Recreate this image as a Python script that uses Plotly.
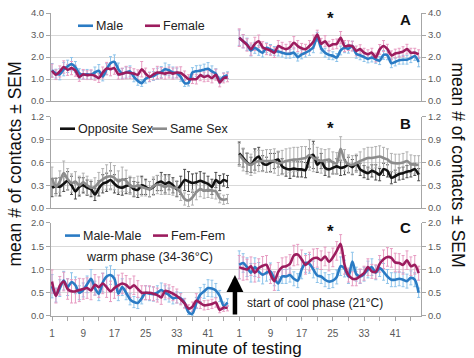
import plotly.graph_objects as go

# ---------------- data ----------------
minutes_warm = list(range(1, 47))
minutes_cool = list(range(1, 48))
COOL_OFFSET = 48  # position shift of cool-phase minutes on the shared x axis

# Panel A
male_warm = [1.41,1.25,1.22,1.45,1.58,1.68,1.55,1.25,1.2,1.22,1.2,1.3,1.38,1.12,1.45,1.72,1.78,1.45,1.26,1.3,
             1.35,1.1,0.92,0.82,1.02,1.1,1.14,1.25,1.32,1.45,1.4,1.3,1.28,1.1,0.82,0.84,1.3,1.36,1.38,1.43,
             1.47,1.35,1.25,0.95,1.1,1.18]
male_warm_sem = [0.3,0.2,0.25,0.3,0.28,0.3,0.25,0.22,0.2,0.22,0.2,0.25,0.28,0.2,0.25,0.3,0.32,0.28,0.22,0.25,
                 0.25,0.22,0.2,0.15,0.2,0.22,0.2,0.25,0.25,0.28,0.25,0.25,0.22,0.2,0.15,0.15,0.22,0.25,0.25,0.25,
                 0.28,0.25,0.22,0.15,0.18,0.15]
female_warm = [1.38,1.2,1.35,1.55,1.42,1.5,1.38,1.1,1.22,1.18,1.2,1.15,1.05,1.3,1.48,1.45,1.5,1.22,1.25,1.3,
               1.28,1.25,1.2,1.45,1.25,1.1,1.22,1.3,1.28,1.25,1.3,1.25,1.3,1.28,1.15,1.0,1.0,1.0,1.18,1.1,
               1.15,1.05,1.2,0.85,1.05,1.08]
female_warm_sem = [0.3,0.22,0.25,0.28,0.25,0.3,0.25,0.2,0.22,0.2,0.22,0.2,0.2,0.25,0.28,0.3,0.28,0.22,0.25,0.28,
                   0.25,0.22,0.22,0.35,0.25,0.2,0.25,0.28,0.25,0.25,0.25,0.25,0.25,0.28,0.22,0.2,0.2,0.22,0.25,0.22,
                   0.25,0.22,0.25,0.2,0.22,0.2]
male_cool = [2.88,2.72,2.58,2.3,2.42,2.3,2.2,2.42,2.35,2.28,2.25,2.2,2.15,2.15,2.2,2.0,2.12,2.2,2.3,2.45,
             2.92,2.4,2.2,2.1,2.06,1.98,2.3,2.42,2.38,2.5,2.15,2.08,2.0,1.92,1.98,1.9,1.84,2.1,2.08,1.72,
             1.78,1.86,1.88,1.88,1.95,2.05,1.78]
male_cool_sem = [0.35,0.3,0.28,0.25,0.25,0.22,0.2,0.22,0.22,0.2,0.2,0.2,0.2,0.2,0.22,0.18,0.2,0.2,0.22,0.25,
                 0.2,0.22,0.2,0.2,0.18,0.18,0.2,0.22,0.2,0.22,0.2,0.2,0.2,0.18,0.2,0.18,0.18,0.2,0.2,0.2,
                 0.18,0.18,0.2,0.2,0.2,0.2,0.22]
female_cool = [2.88,2.72,2.55,2.36,2.6,2.72,2.45,2.36,2.3,2.2,2.5,2.42,2.36,2.45,2.65,2.5,2.4,2.36,2.5,2.7,
               3.02,2.6,2.72,2.5,2.58,2.6,2.88,2.5,2.52,2.5,2.28,2.36,2.2,2.13,2.2,1.98,2.35,2.5,2.36,2.08,
               2.16,2.2,2.25,2.36,2.2,2.2,2.13]
female_cool_sem = [0.4,0.3,0.28,0.28,0.3,0.28,0.25,0.25,0.22,0.22,0.25,0.25,0.22,0.25,0.28,0.25,0.22,0.22,0.25,0.3,
                   0.2,0.25,0.25,0.22,0.22,0.22,0.28,0.25,0.22,0.22,0.22,0.2,0.2,0.2,0.2,0.2,0.22,0.25,0.22,0.2,
                   0.2,0.2,0.22,0.22,0.2,0.2,0.2]

# Panel B
opp_warm = [0.27,0.29,0.28,0.32,0.36,0.3,0.22,0.28,0.3,0.27,0.25,0.18,0.26,0.32,0.34,0.37,0.32,0.28,0.27,0.29,
            0.3,0.25,0.24,0.3,0.28,0.25,0.28,0.33,0.35,0.32,0.34,0.3,0.25,0.3,0.37,0.35,0.33,0.34,0.36,0.34,
            0.32,0.28,0.37,0.33,0.37,0.35]
opp_warm_sem = [0.12,0.1,0.12,0.1,0.12,0.12,0.1,0.12,0.1,0.1,0.1,0.08,0.1,0.12,0.12,0.12,0.12,0.1,0.1,0.1,
                0.1,0.1,0.1,0.12,0.1,0.1,0.1,0.1,0.12,0.12,0.1,0.1,0.1,0.12,0.14,0.13,0.12,0.12,0.12,0.12,
                0.1,0.1,0.1,0.1,0.08,0.08]
same_warm = [0.4,0.28,0.35,0.46,0.38,0.33,0.35,0.3,0.34,0.3,0.27,0.28,0.34,0.38,0.41,0.42,0.4,0.35,0.38,0.36,
             0.3,0.28,0.3,0.28,0.26,0.25,0.29,0.31,0.3,0.28,0.3,0.27,0.26,0.2,0.12,0.1,0.14,0.21,0.25,0.23,
             0.24,0.23,0.22,0.13,0.11,0.12]
same_warm_sem = [0.14,0.12,0.14,0.16,0.14,0.12,0.13,0.12,0.12,0.12,0.1,0.12,0.13,0.14,0.16,0.18,0.16,0.14,0.16,0.14,
                 0.12,0.12,0.12,0.12,0.1,0.1,0.12,0.12,0.12,0.1,0.12,0.1,0.1,0.1,0.08,0.08,0.1,0.1,0.1,0.1,
                 0.1,0.1,0.1,0.06,0.06,0.06]
opp_cool = [0.72,0.66,0.6,0.57,0.64,0.68,0.59,0.57,0.6,0.62,0.64,0.55,0.52,0.51,0.52,0.51,0.51,0.5,0.66,0.7,
            0.57,0.62,0.53,0.51,0.53,0.55,0.53,0.54,0.57,0.54,0.59,0.51,0.48,0.46,0.49,0.47,0.44,0.51,0.49,0.4,
            0.42,0.45,0.46,0.48,0.49,0.51,0.44]
opp_cool_sem = [0.15,0.12,0.12,0.1,0.14,0.12,0.1,0.1,0.12,0.1,0.1,0.1,0.1,0.12,0.1,0.1,0.1,0.1,0.12,0.18,
                0.1,0.1,0.1,0.1,0.08,0.1,0.1,0.1,0.1,0.1,0.1,0.08,0.08,0.08,0.08,0.1,0.08,0.08,0.08,0.08,
                0.08,0.08,0.08,0.08,0.08,0.08,0.08]
same_cool = [0.7,0.64,0.59,0.57,0.6,0.62,0.62,0.62,0.62,0.62,0.59,0.6,0.62,0.63,0.64,0.64,0.65,0.66,0.7,0.66,
             0.64,0.62,0.63,0.64,0.6,0.59,0.78,0.63,0.58,0.57,0.59,0.62,0.64,0.66,0.66,0.67,0.68,0.66,0.64,0.6,
             0.59,0.59,0.6,0.62,0.58,0.57,0.57]
same_cool_sem = [0.15,0.15,0.14,0.14,0.14,0.14,0.14,0.15,0.15,0.16,0.16,0.16,0.16,0.16,0.16,0.16,0.16,0.15,0.2,0.18,
                 0.16,0.16,0.14,0.14,0.14,0.14,0.16,0.14,0.12,0.12,0.12,0.12,0.14,0.14,0.14,0.14,0.14,0.14,0.14,0.12,
                 0.12,0.12,0.12,0.12,0.12,0.12,0.12]

# Panel C
mm_warm = [0.64,0.45,0.6,0.76,0.62,0.73,0.66,0.5,0.56,0.68,0.8,0.6,0.48,0.72,0.85,0.88,0.8,0.48,0.62,0.5,
           0.36,0.3,0.28,0.38,0.5,0.48,0.47,0.5,0.56,0.5,0.45,0.38,0.4,0.38,0.28,0.08,0.05,0.28,0.46,0.53,
           0.6,0.59,0.55,0.43,0.22,0.29]
mm_warm_sem = [0.25,0.15,0.18,0.2,0.18,0.2,0.18,0.15,0.15,0.18,0.2,0.15,0.15,0.2,0.2,0.2,0.2,0.15,0.18,0.15,
               0.12,0.12,0.12,0.12,0.15,0.15,0.15,0.15,0.15,0.15,0.15,0.12,0.12,0.12,0.1,0.05,0.05,0.12,0.15,0.15,
               0.18,0.18,0.15,0.12,0.08,0.08]
ff_warm = [0.74,0.43,0.65,0.74,0.58,0.53,0.53,0.56,0.58,0.6,0.55,0.67,0.62,0.7,0.62,0.53,0.6,0.66,0.7,0.67,
           0.6,0.66,0.58,0.5,0.5,0.5,0.48,0.45,0.4,0.54,0.52,0.48,0.43,0.36,0.27,0.16,0.2,0.33,0.28,0.23,
           0.24,0.26,0.29,0.13,0.18,0.17]
ff_warm_sem = [0.25,0.15,0.2,0.2,0.22,0.25,0.25,0.25,0.22,0.22,0.2,0.22,0.22,0.22,0.22,0.22,0.22,0.22,0.22,0.2,
               0.2,0.2,0.18,0.15,0.15,0.15,0.15,0.15,0.15,0.15,0.15,0.15,0.15,0.12,0.1,0.08,0.1,0.15,0.12,0.1,
               0.1,0.1,0.1,0.06,0.08,0.06]
mm_cool = [1.1,1.14,1.05,0.93,1.05,0.95,0.89,0.93,0.96,0.8,0.7,0.85,0.85,0.88,0.8,0.76,1.0,1.14,1.12,1.0,
           0.87,0.85,0.78,0.74,0.76,0.84,1.07,1.02,0.85,1.17,0.9,0.85,0.9,1.0,1.05,0.93,1.03,0.95,0.85,0.78,
           0.78,0.8,0.78,0.75,0.82,0.78,0.5]
mm_cool_sem = [0.3,0.2,0.2,0.2,0.2,0.2,0.2,0.18,0.18,0.15,0.15,0.15,0.15,0.15,0.15,0.15,0.2,0.2,0.2,0.18,
               0.15,0.15,0.15,0.15,0.15,0.15,0.2,0.18,0.15,0.2,0.15,0.15,0.15,0.18,0.18,0.15,0.18,0.18,0.15,0.15,
               0.15,0.15,0.15,0.15,0.15,0.15,0.1]
ff_cool = [1.05,1.02,1.0,1.07,0.93,1.03,1.08,1.1,0.9,0.75,0.95,1.05,1.07,1.12,1.3,1.32,1.22,1.1,1.17,1.24,
           1.25,1.2,1.28,1.17,1.26,1.4,1.55,1.1,0.88,0.8,0.8,0.86,0.92,1.05,0.96,0.95,1.12,1.22,1.27,1.25,
           1.15,1.14,1.1,1.2,1.07,1.1,0.92]
ff_cool_sem = [0.25,0.25,0.22,0.2,0.2,0.2,0.2,0.2,0.2,0.2,0.2,0.2,0.2,0.2,0.22,0.22,0.2,0.2,0.2,0.2,
               0.2,0.2,0.2,0.2,0.2,0.2,0.2,0.2,0.15,0.15,0.15,0.15,0.15,0.18,0.15,0.15,0.18,0.2,0.2,0.2,
               0.2,0.2,0.2,0.2,0.2,0.2,0.15]

x_tick_minutes = [1, 5, 9, 13, 17, 21, 25, 29, 33, 37, 41, 45]
x_label_minutes = [1, 9, 17, 25, 33, 41]

# ---------------- styles ----------------
BLUE = "#2a7bc4"
BLUE_ERR = "#8dc3ea"
RED = "#9c1c5e"
RED_ERR = "#e79cc2"
BLACK = "#111111"
BLACK_ERR = "#4a4a4a"
GRAY = "#8c8c8c"
GRAY_ERR = "#b0b0b0"
FONT = "Liberation Sans, Arial, sans-serif"

W, H = 474, 358
ML, MR, MT, MB = 51, 53, 7, 42
PW, PH = W - ML - MR, H - MT - MB

fig = go.Figure()

x_warm = minutes_warm
x_cool = [m + COOL_OFFSET for m in minutes_cool]


def add_series(xa, ya, name, warm, warm_sem, cool, cool_sem, color, err_color):
    # error bars first (under lines)
    for xs, ys, es in ((x_warm, warm, warm_sem), (x_cool, cool, cool_sem)):
        fig.add_trace(go.Scatter(
            x=xs, y=ys, mode="markers", xaxis=xa, yaxis=ya,
            marker=dict(size=1, color="rgba(0,0,0,0)"),
            error_y=dict(type="data", array=es, color=err_color, thickness=1, width=1.5),
            showlegend=False, hoverinfo="skip"))
    return (xa, ya, name, warm, cool, color)


def add_lines(spec):
    xa, ya, name, warm, cool, color = spec
    for xs, ys in ((x_warm, warm), (x_cool, cool)):
        fig.add_trace(go.Scatter(
            x=xs, y=ys, mode="lines", xaxis=xa, yaxis=ya, name=name,
            line=dict(color=color, width=2.6, shape="spline", smoothing=0.8),
            showlegend=False))


specs = [
    add_series("x", "y", "Male", male_warm, male_warm_sem, male_cool, male_cool_sem, BLUE, BLUE_ERR),
    add_series("x", "y", "Female", female_warm, female_warm_sem, female_cool, female_cool_sem, RED, RED_ERR),
    add_series("x2", "y2", "Opposite Sex", opp_warm, opp_warm_sem, opp_cool, opp_cool_sem, BLACK, BLACK_ERR),
    add_series("x2", "y2", "Same Sex", same_warm, same_warm_sem, same_cool, same_cool_sem, GRAY, GRAY_ERR),
    add_series("x3", "y3", "Male-Male", mm_warm, mm_warm_sem, mm_cool, mm_cool_sem, BLUE, BLUE_ERR),
    add_series("x3", "y3", "Fem-Fem", ff_warm, ff_warm_sem, ff_cool, ff_cool_sem, RED, RED_ERR),
]
for s in specs:
    add_lines(s)

# dummy traces so right-side axes render
for ya, xa in (("y4", "x"), ("y5", "x2"), ("y6", "x3")):
    fig.add_trace(go.Scatter(x=[None], y=[None], xaxis=xa, yaxis=ya, showlegend=False, hoverinfo="skip"))

XR = [0.74, 95.6]
tickvals = [m for m in x_tick_minutes] + [m + COOL_OFFSET for m in x_tick_minutes]
ticktext = [str(m) if m in x_label_minutes else "" for m in x_tick_minutes] * 2

AXLINE = "#a6a6a6"
GRID = "#d9d9d9"
TICKFONT = dict(family=FONT, size=9.5, color="#595959")


def xaxis_cfg(anchor, labels):
    d = dict(range=XR, anchor=anchor, showgrid=False, zeroline=False, showline=True,
             linecolor=AXLINE, linewidth=1, tickfont=TICKFONT, fixedrange=True)
    if labels:
        d.update(tickvals=tickvals, ticktext=ticktext, ticks="outside", ticklen=4, tickcolor=AXLINE,
                 tickfont=dict(family=FONT, size=10, color="#595959"), ticklabelstandoff=4)
    else:
        d.update(showticklabels=False, ticks="")
    return d


def yaxis_cfg(domain, rng, tv, side="left", overlay=None, anchor="x"):
    d = dict(range=rng, tickvals=tv, ticktext=["%.1f" % v for v in tv], showline=True,
             linecolor=AXLINE, linewidth=1, ticks="outside", ticklen=4, tickcolor=AXLINE,
             tickfont=TICKFONT, zeroline=False, fixedrange=True, side=side, anchor=anchor)
    if overlay:
        d.update(overlaying=overlay, showgrid=False)
    else:
        d.update(domain=domain, showgrid=True, gridcolor=GRID, gridwidth=1)
    return d


A_dom = [0.709, 1.0]
B_dom = [0.356, 0.657]
C_dom = [0.0, 0.307]
A_t = [0, 1, 2, 3, 4]
B_t = [0, 0.3, 0.6, 0.9, 1.2]
C_t = [0, 0.5, 1.0, 1.5, 2.0]

fig.update_layout(
    width=W, height=H,
    margin=dict(l=ML, r=MR, t=MT, b=MB),
    paper_bgcolor="white", plot_bgcolor="white",
    font=dict(family=FONT),
    showlegend=False,
    xaxis=xaxis_cfg("y", False),
    xaxis2=xaxis_cfg("y2", False),
    xaxis3=xaxis_cfg("y3", True),
    yaxis=yaxis_cfg(A_dom, [0, 4], A_t, anchor="x"),
    yaxis2=yaxis_cfg(B_dom, [0, 1.2], B_t, anchor="x2"),
    yaxis3=yaxis_cfg(C_dom, [0, 2], C_t, anchor="x3"),
    yaxis4=yaxis_cfg(None, [0, 4], A_t, side="right", overlay="y", anchor="x"),
    yaxis5=yaxis_cfg(None, [0, 1.2], B_t, side="right", overlay="y2", anchor="x2"),
    yaxis6=yaxis_cfg(None, [0, 2], C_t, side="right", overlay="y3", anchor="x3"),
)

ann = []
shapes = []

# per-panel legends (short line sample + series name), positioned in pixels
def px_x(px):
    return (px - ML) / PW

def px_y(py):
    return (H - MB - py) / PH

legend_layout = [  # (series index, line start px, row centre px)
    (0, 78, 20), (1, 145, 20),
    (2, 60, 125), (3, 152, 125),
    (4, 65, 234), (5, 153, 234),
]
for idx, x0, yc in legend_layout:
    _, _, name, _, _, color = specs[idx]
    shapes.append(dict(type="line", xref="paper", yref="paper",
                       x0=px_x(x0), x1=px_x(x0 + 15), y0=px_y(yc), y1=px_y(yc),
                       line=dict(color=color, width=2.6)))
    ann.append(dict(text=name, x=px_x(x0 + 16), y=px_y(yc), xref="paper", yref="paper",
                    xanchor="left", yanchor="middle", showarrow=False,
                    font=dict(family=FONT, size=12.5, color="#222222")))

# panel letters (placed relative to each panel's top edge)
for txt, yr, shift in (("A", "y domain", -6), ("B", "y2 domain", -7), ("C", "y3 domain", -5)):
    ann.append(dict(text="<b>%s</b>" % txt, x=91.5, y=1, xref="x", yref=yr, yshift=shift,
                    xanchor="center", yanchor="middle", showarrow=False,
                    font=dict(family=FONT, size=15, color="#111111")))
# asterisks
for xr, yr, yv in (("x", "y", 3.73), ("x2", "y2", 1.05), ("x3", "y3", 1.82)):
    ann.append(dict(text="<b>*</b>", x=72.3, y=yv, xref=xr, yref=yr, showarrow=False,
                    font=dict(family=FONT, size=17, color="#111111")))
# phase texts
ann.append(dict(text="warm phase (34-36°C)", x=25.9, y=1.26, xref="x3", yref="y3", showarrow=False,
                font=dict(family=FONT, size=12.5, color="#222222")))
ann.append(dict(text="start of cool phase (21°C)", x=68.3, y=0.27, xref="x3", yref="y3", showarrow=False,
                font=dict(family=FONT, size=12, color="#222222")))
# arrow
ann.append(dict(text="", x=47.9, y=0.88, ax=47.9, ay=0.0, xref="x3", yref="y3", axref="x3", ayref="y3",
                showarrow=True, arrowhead=2, arrowsize=0.75, arrowwidth=4.5, arrowcolor="#000000"))
# axis titles
ann.append(dict(text="mean # of contacts ± SEM", x=0, y=0.5, xref="paper", yref="paper", xshift=-37,
                xanchor="center", yanchor="middle",
                showarrow=False, textangle=-90, font=dict(family=FONT, size=17.5, color="#111111")))
ann.append(dict(text="mean # of contacts ± SEM", x=1.0, y=0.5, xref="paper", yref="paper", xshift=37,
                xanchor="center", yanchor="middle",
                showarrow=False, textangle=90, font=dict(family=FONT, size=17.5, color="#111111")))
ann.append(dict(text="minute of testing", x=0.51, y=0, xref="paper", yref="paper", yshift=-32,
                xanchor="center", yanchor="middle",
                showarrow=False, font=dict(family=FONT, size=17, color="#111111")))
fig.update_layout(annotations=ann, shapes=shapes)

fig.write_html("out.html", config={"displayModeBar": False},
               post_script="document.body.style.margin='0';")
